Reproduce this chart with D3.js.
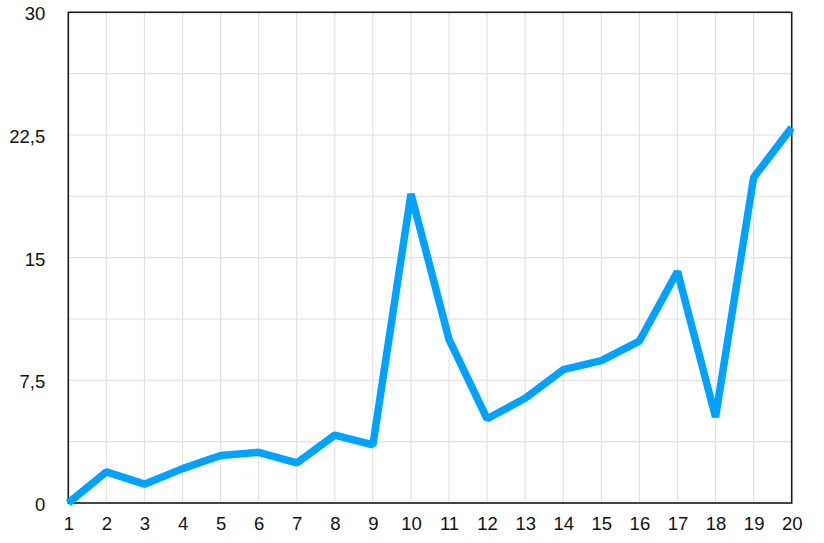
<!DOCTYPE html>
<html><head><meta charset="utf-8">
<script src="https://cdn.jsdelivr.net/npm/d3@7"></script>
<style>html,body{margin:0;padding:0;background:#fff;}</style>
</head><body>
<svg id="chart" width="824" height="543"></svg>
<script>
const categories = [1,2,3,4,5,6,7,8,9,10,11,12,13,14,15,16,17,18,19,20];
const values = [0,1.9,1.15,2.1,2.9,3.1,2.45,4.15,3.55,18.9,10,5.15,6.4,8.15,8.7,9.9,14.15,5.25,19.9,22.95];
const yTicks = [0,7.5,15,22.5,30];
const yGrid = [0,3.75,7.5,11.25,15,18.75,22.5,26.25,30];
const yTickLabels = ["0","7,5","15","22,5","30"];

(function(){
const svg = d3.select("#chart");
const mL = 68.3, mR = 791.7, mT = 12.3, mB = 503;
const x = d3.scaleLinear().domain([1,20]).range([mL,mR]);
const y = d3.scaleLinear().domain([0,30]).range([mB,mT]);
const font = "'Liberation Sans', Arial, Helvetica, sans-serif";

// grid
svg.append("g").selectAll("line").data(yGrid).join("line")
  .attr("x1",mL).attr("x2",mR).attr("y1",d=>y(d)).attr("y2",d=>y(d))
  .attr("stroke","#e2e2e2").attr("stroke-width",1.2);
svg.append("g").selectAll("line").data(categories).join("line")
  .attr("x1",d=>x(d)).attr("x2",d=>x(d)).attr("y1",mT).attr("y2",mB)
  .attr("stroke","#e2e2e2").attr("stroke-width",1.2);

// frame
svg.append("rect").attr("x",mL).attr("y",mT).attr("width",mR-mL).attr("height",mB-mT)
  .attr("fill","none").attr("stroke","#1a1a1a").attr("stroke-width",1.6);

// axes labels via d3 axes
const yAxis = d3.axisLeft(y).tickValues(yTicks).tickSize(0).tickPadding(23)
  .tickFormat((d,i)=>yTickLabels[i]);
const gy = svg.append("g").attr("transform",`translate(${mL},0)`).call(yAxis);
gy.select(".domain").remove();
gy.selectAll("text").attr("font-family",font).attr("font-size",18.5).attr("fill","#111").attr("dy","0.4em");

const xAxis = d3.axisBottom(x).tickValues(categories).tickSize(0).tickPadding(14).tickFormat(d3.format("d"));
const gx = svg.append("g").attr("transform",`translate(0,${mB})`).call(xAxis);
gx.select(".domain").remove();
gx.selectAll("text").attr("font-family",font).attr("font-size",18.5).attr("fill","#111");

// line
const line = d3.line().x((d,i)=>x(categories[i])).y(d=>y(d));
svg.append("path").datum(values).attr("d",line)
  .attr("fill","none").attr("stroke","#00a2ff").attr("stroke-width",7.5)
  .attr("stroke-linejoin","bevel").attr("stroke-linecap","butt");
})();
</script>
</body></html>
